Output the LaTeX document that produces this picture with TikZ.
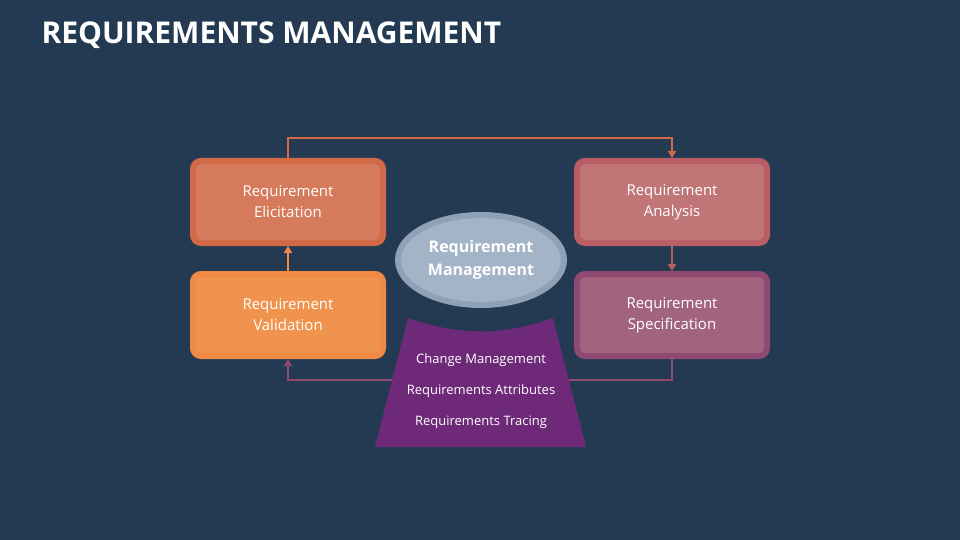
\documentclass[tikz,border=0pt]{standalone}
\usepackage{fontspec}
\setmainfont{Open Sans}
\usetikzlibrary{shapes.geometric,arrows.meta}
\definecolor{bgcol}{HTML}{243A52}
\definecolor{elicol}{HTML}{D26A48}\definecolor{eliin}{HTML}{D57A5B}
\definecolor{valcol}{HTML}{EE8A44}\definecolor{valin}{HTML}{F0934F}
\definecolor{anacol}{HTML}{B85E64}\definecolor{anain}{HTML}{C07577}
\definecolor{specol}{HTML}{8E4A70}\definecolor{spein}{HTML}{A2637F}
\definecolor{ellout}{HTML}{8EA1B7}\definecolor{ellin}{HTML}{A3B4C7}
\definecolor{trapcol}{HTML}{6E2A78}
\tikzset{
  reqbox/.style={draw=#1, line width=6pt, rounded corners=8pt, minimum width=190pt,
    minimum height=82pt, text=white, align=center, font=\fontsize{15}{21}\selectfont},
  link/.style={line width=2pt, -{Triangle[length=7pt,width=8pt]}}
}
\begin{document}
\begin{tikzpicture}[x=1pt,y=-1pt]
\fill[bgcol] (0,0) rectangle (960,540);
\node[anchor=west, text=white, font=\fontsize{30}{34}\selectfont\bfseries] (title) at (38,35) {REQUIREMENTS MANAGEMENT};

% four steps
\node[reqbox=elicol, fill=eliin] (eli) at (288,202) {Requirement\\Elicitation};
\node[reqbox=valcol, fill=valin] (val) at (288,315) {Requirement\\Validation};
\node[reqbox=anacol, fill=anain] (ana) at (672,202) {Requirement\\Analysis};
\node[reqbox=specol, fill=spein] (spe) at (672,315) {Requirement\\Specification};

% connectors
\draw[link, draw=elicol, -{Triangle[length=7pt,width=8pt]}, color=elicol] (eli.north) -- ++(0,-20) -| (ana.north);
\draw[link, color=anacol] (ana.south) -- (spe.north);
\draw[link, color=specol] (spe.south) -- ++(0,21) -| (val.south);
\draw[link, color=valcol] (val.north) -- (eli.south);

% centre
\fill[trapcol] (408,318) .. controls (460,336) and (502,336) .. (553,318) -- (586,447) -- (375,447) -- cycle;
\node[ellipse, fill=ellin, draw=ellout, line width=6pt, minimum width=166pt, minimum height=90pt,
  text=white, align=center, font=\fontsize{16}{23}\selectfont\bfseries] (core) at (481,260) {Requirement\\Management};
\node[text=white, font=\fontsize{13}{15}\selectfont] (chg) at (481,360) {Change Management};
\node[text=white, font=\fontsize{13}{15}\selectfont] (attr) at (481,391) {Requirements Attributes};
\node[text=white, font=\fontsize{13}{15}\selectfont] (trc) at (481,422) {Requirements Tracing};
\end{tikzpicture}
\end{document}
